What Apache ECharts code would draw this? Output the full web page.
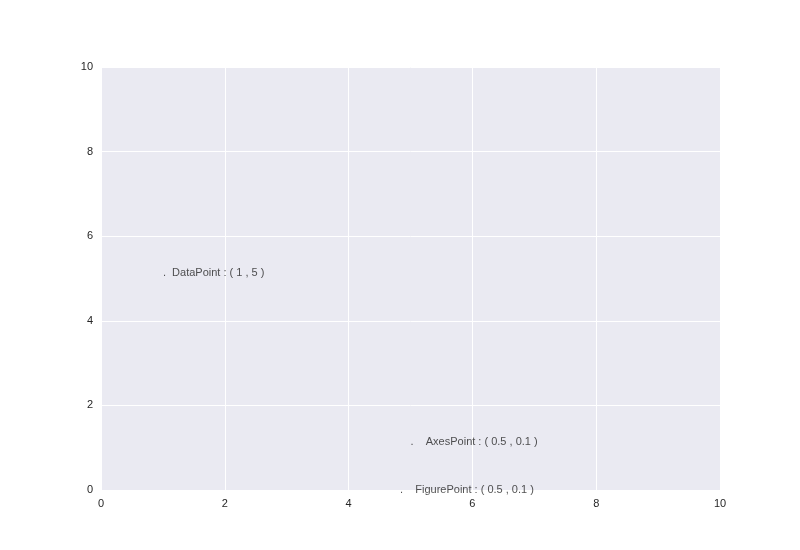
<!DOCTYPE html>
<html>
<head>
<meta charset="utf-8">
<script src="https://cdn.jsdelivr.net/npm/echarts@6/dist/echarts.min.js"></script>
<style>html,body{margin:0;padding:0;background:#fff}#main{width:800px;height:550px}</style>
</head>
<body>
<div id="main"></div>
<script>
// annotation texts and their positions in data units
const labels = ['.  DataPoint : ( 1 , 5 )', '.    AxesPoint : ( 0.5 , 0.1 )', '.    FigurePoint : ( 0.5 , 0.1 )'];
const xs = [1, 5, 4.83];
const ys = [5, 1, -0.12];
const ticks = [0, 2, 4, 6, 8, 10];

const chart = echarts.init(document.getElementById('main'));
const axisCommon = {
  min: 0, max: 10, interval: 2,
  axisLine: { show: false },
  axisTick: { show: false },
  axisLabel: { color: '#262626', fontSize: 11, fontFamily: 'Liberation Sans', margin: 8 },
  splitLine: { show: true, lineStyle: { color: '#ffffff', width: 1 } }
};
chart.setOption({
  animation: false,
  backgroundColor: '#fff',
  grid: { left: 101, right: 80, top: 67, bottom: 60, show: true, backgroundColor: '#EAEAF2', borderWidth: 0 },
  xAxis: Object.assign({ type: 'value' }, axisCommon),
  yAxis: Object.assign({ type: 'value' }, axisCommon),
  series: [{
    type: 'scatter',
    clip: false,
    symbolSize: 0,
    data: xs.map((x, i) => ({ value: [x, ys[i]], name: labels[i] })),
    label: {
      show: true,
      position: [0, 0],
      align: 'left',
      verticalAlign: 'bottom',
      formatter: p => p.name,
      color: '#262626',
      fontSize: 11,
      fontFamily: 'Liberation Sans'
    }
  }]
});
</script>
</body>
</html>
